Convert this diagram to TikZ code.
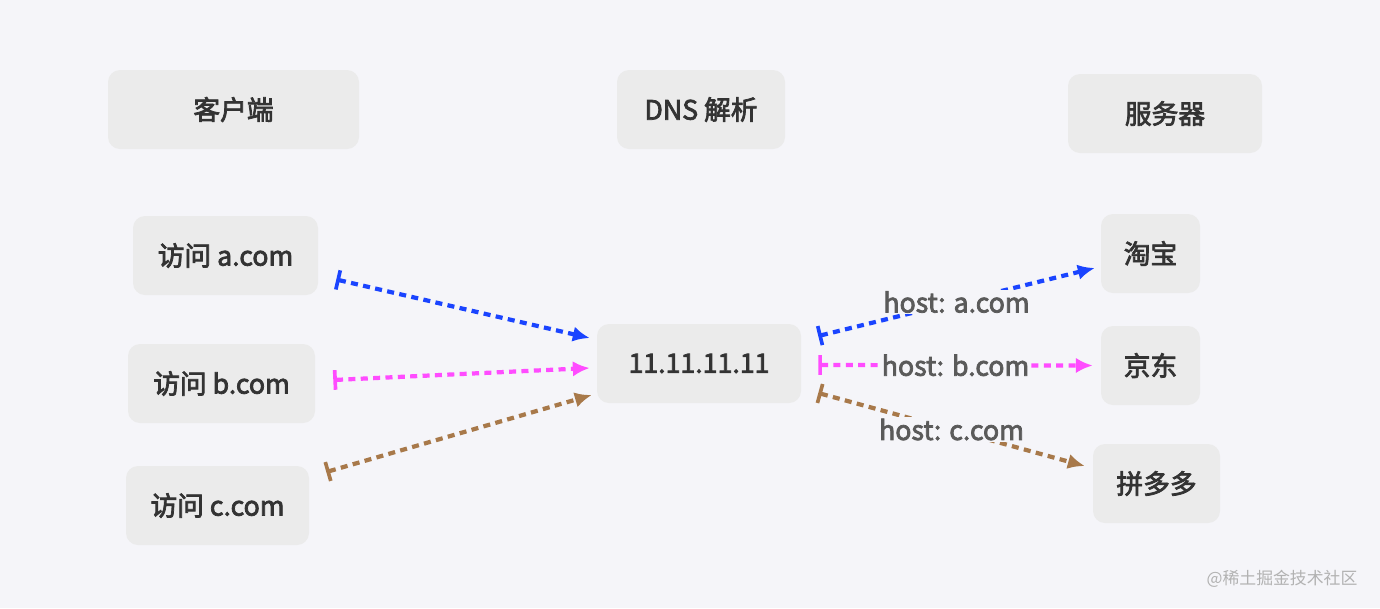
\documentclass[tikz,border=0pt]{standalone}
\usepackage{fontspec}
\setmainfont{Noto Sans CJK SC}
\newfontfamily\kmed{Noto Sans CJK SC}[FakeBold=2.8]
\usetikzlibrary{arrows.meta}
\definecolor{kbg}{HTML}{F5F5F9}
\definecolor{kbox}{HTML}{EBEBEB}
\definecolor{ktxt}{HTML}{333333}
\definecolor{khost}{HTML}{5A5A5A}
\definecolor{kblue}{HTML}{1A44FF}
\definecolor{kpink}{HTML}{FF4CFF}
\definecolor{kbrown}{HTML}{A8794A}
\tikzset{
  kbox/.style={fill=kbox,rounded corners=0.3cm,minimum height=79*0.025cm,text=ktxt,font=\fontsize{19}{23}\selectfont\kmed},
  klink/.style={line width=3pt,dash pattern=on 5pt off 3.8pt,{Bar[width=14pt,line width=2.6pt]}-{Latex[length=12pt,width=11pt]}},
  khost/.style={midway,fill=kbg,inner sep=1pt,text=khost,font=\fontsize{19}{23}\selectfont\kmed}
}
\begin{document}
\begin{tikzpicture}[x=0.025cm,y=-0.025cm]
\useasboundingbox[fill=kbg](0,0) rectangle (1380,608);
\foreach \nm/\kx/\ky/\kw/\txt in {hc/233.5/109.5/251/客户端,hd/701/109.5/168/DNS 解析,hs/1165/113.5/194/服务器,
  ca/225.5/255.5/185/访问 a.com,cb/221.5/383.5/187/访问 b.com,cc/217.5/505.5/183/访问 c.com,
  dns/699/363.5/204/11.11.11.11,
  sa/1150.5/253.5/99/淘宝,sb/1150.5/365.5/99/京东,sc/1156.5/483.5/127/拼多多}{
  \node[kbox,minimum width=\kw*0.025cm] (\nm) at (\kx,\ky) {\txt};
}
% client -> dns
\draw[klink,kblue] ([shift={(18,24)}]ca.east) -- ([shift={(-7,-25.5)}]dns.west);
\draw[klink,kpink] ([shift={(18,-3.5)}]cb.east) -- ([shift={(-7,4.5)}]dns.west);
\draw[klink,kbrown] ([shift={(17,-33.5)}]cc.east) -- ([shift={(-5,31.5)}]dns.west);
% dns -> server
\draw[klink,kblue] ([shift={(17,-27.5)}]dns.east) -- ([shift={(-6,14.5)}]sa.west) node[khost]{host: a.com};
\draw[klink,kpink] ([shift={(17,1.5)}]dns.east) -- ([shift={(-8,0)}]sb.west) node[khost]{host: b.com};
\draw[klink,kbrown] ([shift={(17,29.5)}]dns.east) -- ([shift={(-8,-17.5)}]sc.west) node[khost]{host: c.com};
\node[text=black!30,font=\fontsize{12}{14}\selectfont] (wm) at (1282,579) {@稀土掘金技术社区};
\end{tikzpicture}
\end{document}
